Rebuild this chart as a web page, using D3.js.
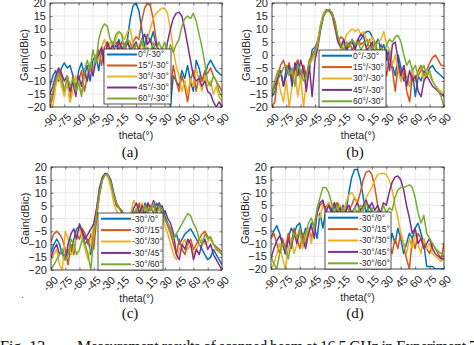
<!DOCTYPE html>
<html><head><meta charset="utf-8">
<script src="https://cdn.jsdelivr.net/npm/d3@7"></script>
<style>body{margin:0;background:#fff}svg{display:block}</style>
</head><body>
<script>
// ---------- DATA ----------
const theta = d3.range(-90, 91, 3);
const xTicks = [-90,-75,-60,-45,-30,-15,0,15,30,45,60,75,90];
const yTicks = [-20,-15,-10,-5,0,5,10,15,20];
const colors = ["#0072BD","#D95319","#EDB120","#7E2F8E","#77AC30"];
const namesAB = ["0°/-30°","15°/-30°","30°/-30°","45°/-30°","60°/-30°"];
const namesCD = ["-30°/0°","-30°/15°","-30°/30°","-30°/45°","-30°/60°"];
const panelLabels = ["(a)","(b)","(c)","(d)"];

const a0  = [-12,-8,-6,-10,-5,-3,-5,-4,-8,-14,-6,-3,-8,-4,-10,-2,0,-6,2,-3,4,1,5,3,6,2,4,6,14,19,20,17,10,3,8,5,9,4,2,-3,-15,-5,-20,-8,-10,-12,-6,-9,-4,-10,-14,-2,-5,-10,-8,-4,-2,-4,-6,-7,-8];
const a15 = [-20,-16,-10,-6,-8,-14,-10,-18,-8,-12,-10,-6,-14,-8,-4,-6,-2,2,-4,3,5,1,4,5,2,5,3,6,2,5,7,6,13,18,20,19,14,6,0,-5,2,-8,-14,-4,-10,-14,-8,-12,-18,-10,-6,-14,-8,-10,-6,-7,-5,-8,-10,-12,-14];
const a30 = [-18,-20,-12,-8,-12,-16,-10,-18,-14,-8,-12,-15,-8,-10,-3,-8,0,-2,3,6,2,5,3,6,9,8,6,9,10,4,2,0,5,1,6,10,14,16,17,18,18,16,10,2,-4,-8,-14,-10,-15,-9,-12,-5,-10,-14,-8,-12,-10,-15,-12,-16,-18];
const a45 = [-15,-12,-8,-5,-7,-10,-8,-14,-10,-16,-8,-12,-6,-10,-4,-8,-2,0,3,-4,5,2,4,0,5,3,1,5,2,3,5,2,6,8,4,6,2,5,0,2,-2,5,10,14,16,16.5,15,10,4,-2,-8,-10,-9,-12,-10,-14,-15,-18,-20,-18,-20];
const a60 = [-18,-14,-10,-7,-10,-14,-8,-12,-9,-14,-10,-16,-6,-2,-6,2,-3,6,10,12,11,6,4,8,9,8,2,6,5,0,4,3,6,2,3,0,5,1,5,2,5,0,4,1,4,6,11,14,15,14,16,13,8,3,-3,-10,-12,-8,-10,-14,-16];

const b0  = [-16,-14,-10,-6,-12,-8,-4,-10,-6,-2,-8,-4,-12,-6,2,3,5,11,15,17,17.5,16,12,6,3,5,2,4,6,3,5,6,8,9,9,7,4,6,2,4,-2,2,-4,-8,0,-5,-10,-8,-12,-6,-16,-8,-10,-6,-8,-5,-4,-6,-7,-8,-9];
const b15 = [-20,-18,-8,-4,-2,-6,-3,-10,-4,-2,-10,-4,-8,-2,0,2,6,12,16,17.5,17,15,10,5,7,6,3,5,2,4,6,4,5,3,6,2,4,-2,3,-4,-8,0,-6,-14,-4,-10,-6,-14,-18,-8,-10,-6,-4,-8,-6,-3,-1,0,-2,-4,-4];
const b30 = [-15,-12,-8,-14,-18,-10,-20,-12,-6,-16,-8,-20,-10,-4,-2,0,5,12,16,17,17,16,12,6,2,4,8,9,10,9,10,8,9,6,5,7,3,5,6,9,4,2,-4,0,-6,-10,-4,-8,-12,-6,-10,-8,-5,-10,-6,-8,-10,-12,-13,-14,-15];
const b45 = [-14,-12,-9,-6,-12,-5,-4,-12,-3,-8,-2,-6,-14,-4,-16,-2,3,10,15,17,17,16,12,5,3,6,2,4,5,2,6,8,7,2,3,5,-2,0,4,-4,2,-6,4,5,-2,-8,-4,-12,-6,-10,-8,-14,-16,-10,-8,-10,-12,-13,-14,-15,-16];
const b60 = [-15,-10,-6,-8,-5,-4,-8,-5,-12,-4,-6,-10,-8,-3,-1,1,4,11,15,17,17.5,16,13,7,4,2,5,3,6,4,5,2,4,6,3,2,5,1,3,0,4,6,5,7,7.5,5,0,-4,-2,-6,-4,-8,-6,-4,-8,-6,-10,-12,-14,-16,-20];

const c0  = [-13,-10,-8,-10,-14,-16,-12,-14,-8,-4,-3,-6,-10,-8,-14,-4,2,10,15,17.5,17,14,9,5,4,2,-4,-8,-6,-2,2,5,1,6,3,5,2,6,4,5,1,-2,-4,-8,-6,-10,-8,-6,-5,-4,-6,-8,-10,-12,-14,-16,-15,-12,-14,-16,-18];
const c15 = [-9,-6,-5,-6,-8,-12,-18,-10,-14,-6,-8,-4,-6,-10,-6,-12,0,9,15,17.5,17,14,9,5,4,2,-6,-10,-4,0,3,6,2,4,6,3,5,2,6,3,0,-3,-6,-10,-14,-8,-12,-14,-10,-8,-12,-10,-8,-6,-5,-7,-8,-10,-11,-12,-13];
const c30 = [-16,-14,-12,-18,-20,-5,-8,-14,-12,-6,-4,-8,-12,-16,-10,-2,3,11,16,17,16,12,6,3,1,-2,-8,-4,2,7,5,3,6,2,4,5,3,2,4,0,-3,-6,-10,-14,-16,-12,-10,-8,-12,-10,-14,-12,-10,-8,-10,-9,-8,-10,-12,-13,-14];
const c45 = [-15,-12,-10,-14,-12,-16,-10,-6,-4,-8,-2,-5,-8,-6,-4,-2,4,12,16,17.5,17,15,10,6,4,3,-2,-6,0,4,6,2,5,1,6,4,7,3,6,2,3,0,-2,-6,-14,-16,-10,-12,-8,-10,-16,-12,-14,-10,-8,-12,-10,-14,-16,-18,-20];
const c60 = [-20,-18,-16,-14,-12,-16,-14,-8,-10,-14,-12,-8,-10,-14,-20,-6,2,10,15,17,17,14,9,6,4,3,-2,-6,-2,2,4,0,3,5,2,4,6,1,5,3,-1,-2,-4,-8,-6,-4,-2,0,2,1,-2,-4,-8,-10,-6,-8,-7,-10,-12,-13,-14];

const d0  = [-8,-5,-3,-6,-10,-14,-8,-4,-6,-3,-2,-8,-4,-6,-2,-3,-8,2,-4,3,5,2,4,6,3,5,2,10,16,19,19,15,8,2,5,2,-2,3,-4,-8,-2,-12,-6,-10,-4,-8,-14,-10,-6,-8,-4,-2,-6,-10,-19,-19,-19,-20,-20,-20,-20];
const d15 = [-8,-6,-10,-14,-8,-12,-6,-10,-4,-8,-12,-6,-10,-4,-8,-2,2,5,6,4,6,3,5,6,4,2,5,3,5,8,6,10,15,18,18.5,17,12,5,0,-6,-3,-10,-14,-8,-12,-6,-10,-16,-20,-8,-12,-6,-8,-10,-12,-14,-10,-12,-14,-16,-10];
const d30 = [-20,-18,-14,-10,-16,-20,-12,-8,-14,-10,-6,-12,-8,-4,-10,-2,2,0,5,3,6,4,6,3,5,2,6,9,10,8,5,2,4,8,10,12,15,17,17.5,17.5,17,15,11,5,0,-6,-10,-14,-8,-12,-6,-10,-14,-8,-12,-10,-14,-15,-16,-17,-16];
const d45 = [-16,-12,-9,-7,-10,-14,-8,-12,-6,-10,-4,-8,-12,-6,-3,-8,2,6,7,2,5,3,6,2,4,0,3,5,2,4,6,3,5,7,4,6,3,5,2,6,5,10,14,16,16.5,15,11,5,0,-6,-4,-10,-8,-12,-10,-8,-12,-14,-15,-16,-16];
const d60 = [-15,-18,-20,-14,-10,-12,-16,-10,-6,-8,-4,-10,-6,-2,0,-4,4,8,12,12,10,6,2,5,1,4,0,3,1,4,2,5,3,6,2,4,0,3,1,5,2,4,3,8,11,12,12,12.5,13,12,8,2,-2,1,-6,-8,-10,-12,-13,-14,-15];

const panelSeries = [[a0,a15,a30,a45,a60],[b0,b15,b30,b45,b60],[c0,c15,c30,c45,c60],[d0,d15,d30,d45,d60]];
const panelNames = [namesAB,namesAB,namesCD,namesCD];

// ---------- LAYOUT ----------
const panels = [
  {l:50, t:3,   w:172, h:104, lg:{x:104,y:49,w:67,h:55}, lab:{x:130,y:157}},
  {l:272,t:3,   w:172, h:104, lg:{x:319,y:50,w:67,h:57}, lab:{x:355,y:157}},
  {l:51, t:167, w:171, h:103, lg:{x:98,y:213,w:65,h:57}, lab:{x:130,y:318}},
  {l:271,t:167, w:173, h:102, lg:{x:325,y:212,w:66,h:57}, lab:{x:355,y:318}}
];

const svg = d3.select("body").append("svg").attr("width",474).attr("height",345);
const font = "Liberation Sans, Arial, Helvetica, sans-serif";
const axisCol = "#262626";

panels.forEach((p, pi) => {
  const x = d3.scaleLinear().domain([-90,90]).range([p.l, p.l+p.w]);
  const y = d3.scaleLinear().domain([-20,20]).range([p.t+p.h, p.t]);
  const g = svg.append("g");
  const cid = "clip"+pi;
  svg.append("defs").append("clipPath").attr("id",cid).append("rect")
    .attr("x",p.l).attr("y",p.t).attr("width",p.w).attr("height",p.h);

  // grid
  g.append("g").selectAll("line").data(xTicks).join("line")
    .attr("x1",d=>x(d)).attr("x2",d=>x(d)).attr("y1",p.t).attr("y2",p.t+p.h)
    .attr("stroke","#e3e3e3").attr("stroke-width",0.8);
  g.append("g").selectAll("line").data(yTicks).join("line")
    .attr("y1",d=>y(d)).attr("y2",d=>y(d)).attr("x1",p.l).attr("x2",p.l+p.w)
    .attr("stroke","#e3e3e3").attr("stroke-width",0.8);

  // lines
  const line = d3.line().x((d,i)=>x(theta[i])).y(d=>y(d));
  const lg = g.append("g").attr("clip-path",`url(#${cid})`);
  panelSeries[pi].forEach((s,si)=>{
    lg.append("path").attr("d",line(s)).attr("fill","none")
      .attr("stroke",colors[si]).attr("stroke-width",1.5).attr("stroke-linejoin","round");
  });

  // axes
  const ax = d3.axisBottom(x).tickValues(xTicks).tickSize(-2.5).tickFormat("");
  const axT = d3.axisTop(x).tickValues(xTicks).tickSize(-2.5).tickFormat("");
  const ay = d3.axisLeft(y).tickValues(yTicks).tickSize(-2.5).tickPadding(4);
  const ayR = d3.axisRight(y).tickValues(yTicks).tickSize(-2.5).tickFormat("");
  [
    g.append("g").attr("transform",`translate(0,${p.t+p.h})`).call(ax),
    g.append("g").attr("transform",`translate(0,${p.t})`).call(axT),
    g.append("g").attr("transform",`translate(${p.l},0)`).call(ay),
    g.append("g").attr("transform",`translate(${p.l+p.w},0)`).call(ayR)
  ].forEach(a=>{
    a.select(".domain").remove();
    a.selectAll("line").attr("stroke",axisCol).attr("stroke-width",0.6);
    a.selectAll("text").attr("font-family",font).attr("font-size",11).attr("fill",axisCol);
  });
  // rotated x tick labels
  g.append("g").selectAll("text").data(xTicks).join("text")
    .attr("transform",d=>`translate(${x(d)+2},${p.t+p.h+5}) rotate(-45)`)
    .attr("text-anchor","end").attr("dy","0.75em")
    .attr("font-family",font).attr("font-size",11).attr("fill",axisCol)
    .text(d=>d);

  // frame
  g.append("rect").attr("x",p.l).attr("y",p.t).attr("width",p.w).attr("height",p.h)
    .attr("fill","none").attr("stroke",axisCol).attr("stroke-width",0.8);

  // axis labels
  g.append("text").attr("transform",`translate(${p.l-22},${p.t+p.h/2}) rotate(-90)`)
    .attr("text-anchor","middle").attr("font-family",font).attr("font-size",11).attr("fill",axisCol)
    .text("Gain(dBic)");
  g.append("text").attr("x",p.l+p.w/2).attr("y",p.t+p.h+32)
    .attr("text-anchor","middle").attr("font-family",font).attr("font-size",10.5).attr("fill",axisCol)
    .text("theta(°)");

  // legend
  const L = p.lg;
  const leg = g.append("g");
  leg.append("rect").attr("x",L.x).attr("y",L.y).attr("width",L.w).attr("height",L.h)
    .attr("fill","#fff").attr("stroke",axisCol).attr("stroke-width",0.8);
  panelNames[pi].forEach((n,i)=>{
    const yy = L.y + L.h*(i+0.5)/5;
    leg.append("line").attr("x1",L.x+3).attr("x2",L.x+33).attr("y1",yy).attr("y2",yy)
      .attr("stroke",colors[i]).attr("stroke-width",2);
    leg.append("text").attr("x",L.x+34).attr("y",yy).attr("dy","0.35em")
      .attr("font-family",font).attr("font-size",8.5).attr("fill",axisCol).text(n);
  });

  // panel label
  svg.append("text").attr("x",p.lab.x).attr("y",p.lab.y).attr("text-anchor","middle")
    .attr("font-family","Liberation Serif, Times New Roman, serif").attr("font-size",15)
    .attr("fill","#111").text(panelLabels[pi]);
});

svg.append("text").attr("x",21).attr("y",298).attr("font-family",font).attr("font-size",10).attr("fill","#444").text(".");
svg.append("text").attr("x",0).attr("y",352).attr("font-family","Liberation Serif, Times New Roman, serif")
  .attr("font-size",16).attr("fill","#111").text("Fig. 13.");
svg.append("text").attr("x",77).attr("y",352).attr("font-family","Liberation Serif, Times New Roman, serif")
  .attr("font-size",16).attr("fill","#111").attr("textLength",400).attr("lengthAdjust","spacing")
  .text("Measurement results of scanned beam at 16.5 GHz in Experiment 7");
</script>
</body></html>
